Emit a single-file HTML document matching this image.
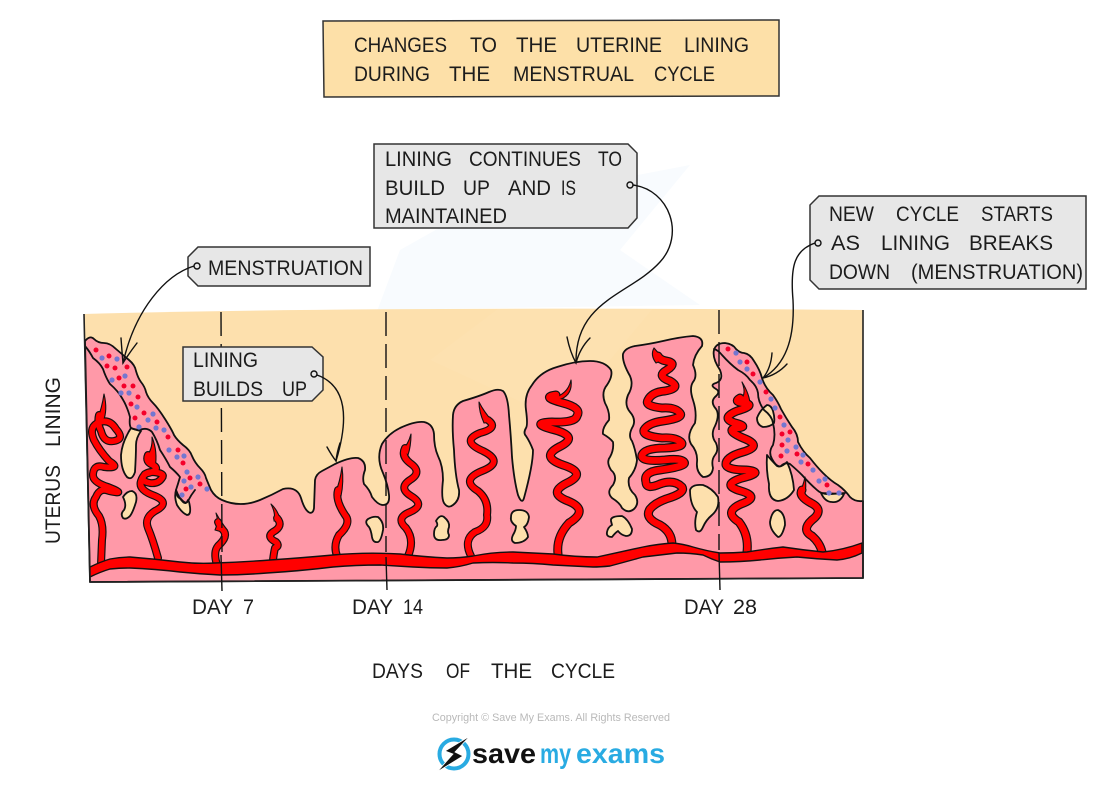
<!DOCTYPE html>
<html><head><meta charset="utf-8">
<style>
html,body{margin:0;padding:0;background:#fff;width:1100px;height:792px;overflow:hidden}
svg{display:block}
text{font-family:"Liberation Sans",sans-serif;font-size:21px;fill:#1c1c1c}
.o{fill:none;stroke:#111;stroke-width:1.8;stroke-linecap:round;stroke-linejoin:round}
.t{fill:#ff99a8;stroke:#111;stroke-width:1.8;stroke-linejoin:round}
.g{fill:#fde0ad;stroke:#111;stroke-width:1.8;stroke-linejoin:round}
.s{fill:#f00;stroke:#111;stroke-width:1.1;stroke-linejoin:round}
.b{fill:#e7e7e7;stroke:#333;stroke-width:1.5}
.c{fill:none;stroke:#111;stroke-width:1.4;stroke-linecap:round}
.r circle{fill:#f4002a}
.p circle{fill:#7477d0}
</style></head><body>
<svg width="1100" height="792" viewBox="0 0 1100 792" xmlns="http://www.w3.org/2000/svg">
<defs>
<g id="v" fill="none" stroke-linecap="round" stroke-linejoin="round">
<path d="M101,564 L102,540 Q104,525 99,516 Q90,505 96,497 Q100,487 109,491 Q128,495 108,487 Q92,482 93,474 Q94,464 104,467 Q122,469 109,461 Q99,450 94,440 Q88,426 100,422 Q110,419 116,429 Q125,439 114,441 Q104,443 101,431 Q97,423 99,415"/>
<path d="M158,558 Q153,540 148,528 Q144,518 155,511 Q171,503 155,496 Q138,490 141,481 Q144,472 152,472 Q166,473 162,478 Q158,484 150,483 Q139,481 145,474 Q162,470 153,465 Q145,462 148,455"/>
<path d="M217,565 Q213,552 218,546 Q229,536 223,530 Q219,525 218,522"/>
<path d="M273,560 Q274,552 275,548 Q280,546 276,542 Q266,537 273,532 Q284,526 277,518"/>
<path d="M337,556 Q333,545 339,535 Q352,523 345,515 Q335,500 338,490"/>
<path d="M408,556 Q415,540 406,528 Q395,518 410,512 Q426,505 411,496 Q398,488 410,480 Q423,472 410,463 Q401,456 405,448"/>
<path d="M471,556 Q463,540 475,532 Q489,527 487,515 Q489,500 478,491 Q460,480 482,471 Q505,462 483,451 Q460,441 480,433 Q499,428 488,420"/>
</g>
<g id="w" fill="none" stroke-linecap="round" stroke-linejoin="round">
<path d="M558,554 Q556,537 569,523 Q590,510 568,501 Q547,493 567,483 Q588,473 563,465 Q540,457 559,447 Q580,437 555,430 Q528,423 552,422 Q575,423 577,416 Q582,408 563,403 Q540,397 556,395"/>
<path d="M672,545 Q672,532 660,525 Q644,518 650,509 Q655,503 666,499 Q686,493 682,487 Q674,479 660,484 Q646,490 646,482 Q643,472 660,470 Q688,466 684,462 Q681,458 665,460 Q640,462 642,455 Q645,448 665,448 Q686,447 681,442 Q675,437 662,438 Q642,436 644,430 Q648,423 663,421 Q684,418 680,413 Q675,407 662,408 Q644,406 648,400 Q652,392 665,391 Q682,388 670,381 Q656,376 667,370 Q678,363 666,361 Q660,360 658,356"/>
<path d="M747,552 Q749,535 739,522 Q723,512 741,504 Q761,497 741,491 Q720,485 742,478 Q766,472 746,470 Q728,470 726,465 Q725,457 743,452 Q764,446 743,438 Q725,430 736,428 Q750,427 735,423 Q720,418 737,411 Q757,405 744,403 Q733,402 740,398"/>
<path d="M822,552 Q820,543 812,536 Q801,530 812,520 Q825,510 811,503 Q798,496 802,490"/>
</g>
</defs>

<!-- watermark on white -->
<path d="M370,330 L400,250 L480,205 L690,165 L620,250 L700,305 L370,310Z" fill="#f8fbfe"/>

<!-- title -->
<path d="M323,21 L779,20 L779,96 L324,97Z" fill="#fde0a8" stroke="#333" stroke-width="1.5"/>
<text x="354" y="52" textLength="93" lengthAdjust="spacingAndGlyphs">CHANGES</text>
<text x="470" y="52" textLength="27" lengthAdjust="spacingAndGlyphs">TO</text>
<text x="516" y="52" textLength="41" lengthAdjust="spacingAndGlyphs">THE</text>
<text x="576" y="52" textLength="86" lengthAdjust="spacingAndGlyphs">UTERINE</text>
<text x="684" y="52" textLength="65" lengthAdjust="spacingAndGlyphs">LINING</text>
<text x="354" y="81" textLength="76" lengthAdjust="spacingAndGlyphs">DURING</text>
<text x="449" y="81" textLength="41" lengthAdjust="spacingAndGlyphs">THE</text>
<text x="513" y="81" textLength="121" lengthAdjust="spacingAndGlyphs">MENSTRUAL</text>
<text x="654" y="81" textLength="61" lengthAdjust="spacingAndGlyphs">CYCLE</text>

<!-- panel -->
<path d="M84,314 Q380,306 863,310 L863,578 L90,582Z" fill="#fde0ad"/>
<path d="M430,360 L680,172 L590,305 L660,300 L560,420Z" fill="#fff" opacity=".04"/>

<!-- tissue -->
<path class="t" d="M85,341 Q90,335 94,339 Q98,343 104,343 Q110,343 116,349 Q123,355 129,360 Q135,365 136,371 Q138,378 141,382 Q145,387 146,392 Q148,398 153,403 Q158,408 165,419 Q172,430 174,435 Q177,440 183,445 Q190,450 192,456 Q195,463 200,468 Q205,473 206,478 Q208,483 211,490 Q215,497 222,500 Q240,508 260,500 Q272,495 283,489 Q297,486 301,498 C306,515 313,516 314,508 L315,480 Q316,474 322,471 L335,464 Q350,457 358,458 Q366,461 365,470 Q362,478 364,484 Q370,490 372,497 Q378,505 383,505 Q390,505 389,495 Q388,485 383,473 Q376,458 382,444 Q388,434 400,428 Q415,421 424,422 Q433,424 434,434 Q434,447 438,456 Q443,466 443,480 Q441,498 444,503 Q448,509 453,505 Q460,500 459,490 Q455,475 454,450 Q452,430 453,415 Q454,405 463,401 Q480,396 489,392 Q498,388 503,391 Q508,396 509,415 Q511,437 512,457 Q514,480 518,495 Q522,505 524,498 Q533,465 533,450 Q530,442 526,436 Q523,433 526,428 Q528,425 526,410 Q524,395 532,385 Q540,372 557,367 Q575,361 590,361 Q605,361 611,370 Q613,376 607,385 Q601,392 605,403 Q610,412 609,420 Q602,428 603,434 Q610,438 613,442 Q614,450 610,457 Q606,462 611,470 Q618,476 613,485 Q606,492 612,498 Q620,503 622,508 Q628,514 634,509 Q640,503 635,495 Q627,488 629,478 Q636,470 637,460 Q635,448 632,441 Q628,436 632,428 Q637,420 630,412 Q624,405 628,395 Q634,385 630,376 Q622,362 623,354 Q625,348 635,346 Q650,344 663,341 Q680,337 693,336 Q704,337 702,346 Q694,355 693,365 Q698,376 693,382 Q689,388 693,400 Q697,412 695,423 Q686,435 691,444 Q698,452 697,462 Q696,472 703,477 Q712,477 713,468 Q711,460 715,455 Q719,450 716,443 Q710,435 715,426 Q720,415 716,409 Q710,402 715,397 Q721,392 716,389 Q709,385 716,383 Q724,380 720,370 Q712,358 714,350 Q716,343 725,343 Q733,344 736,349 Q740,353 744,353 Q750,354 754,361 Q760,370 762,378 Q765,388 773,395 Q778,402 781,409 Q786,418 792,427 Q798,434 798,442 Q803,452 810,458 Q817,467 823,473 Q831,481 838,485 Q845,490 850,497 Q855,502 863,501 L863,578 L90,582Z"/>

<!-- glands -->
<path class="g" d="M131,428 Q122,442 121,455 Q121,470 127,477 Q132,481 135,472 Q136,455 136,445 Q136,438 141,431 Q135,430 131,428Z"/>
<path class="g" d="M176,490 Q174,497 177,505 Q182,513 187,515 Q191,515 190,507 Q189,500 188,500 Q186,505 183,502 Q179,498 176,490Z"/>
<path class="g" d="M123,497 Q127,491 132,491 Q138,493 136,502 Q133,512 130,516 Q126,520 123,518 Q120,514 124,510 Q127,505 123,497Z"/>
<path class="g" d="M368,519 Q373,516 378,517 Q384,522 383,530 Q381,541 378,542 Q373,543 372,537 Q371,530 369,527 Q364,522 368,519Z"/>
<path class="g" d="M436,521 Q440,514 444,517 Q450,522 449,527 Q447,532 449,535 Q449,540 442,540 Q434,541 434,534 Q434,528 437,526 Q438,524 436,521Z"/>
<path class="g" d="M511,517 Q511,510 519,510 Q528,510 529,517 Q528,525 524,527 Q528,533 528,537 Q524,543 515,543 Q510,541 513,535 Q516,530 516,526 Q510,522 511,517Z"/>
<path class="g" d="M611,521 Q610,516 622,516 Q628,519 632,529 Q632,536 626,536 Q621,535 618,531 Q615,533 612,537 Q606,537 607,532 Q608,527 612,525Z"/>
<path class="g" d="M690,490 Q692,484 703,485 Q712,488 718,497 Q720,508 712,515 Q706,520 703,527 Q700,534 696,530 Q694,522 697,512 Q690,505 690,490Z"/>
<path class="g" d="M757,418 Q760,410 767,405 Q771,405 773,411 Q775,418 774,423 Q770,427 763,427 Q757,425 757,418Z"/>
<path class="g" d="M767,455 Q766,470 769,484 Q768,500 778,501 Q788,500 794,490 Q793,475 787,462 Q781,468 777,466 Q771,460 767,455Z"/>
<path class="g" d="M770,522 Q772,510 778,510 Q785,513 785,525 Q782,537 778,537 Q770,530 770,522Z"/>
<path class="g" d="M821,493 Q825,502 832,502 Q840,503 844,494Z"/>

<!-- shed lining edges -->
<path class="o" d="M85,346 Q90,352 93,358 Q100,363 103,369 Q106,378 110,384 Q118,391 122,398 Q127,406 130,417 Q129,425 131,428 Q138,431 143,429 Q148,428 152,432 Q157,440 160,450 Q166,459 170,467 Q176,472 180,477 Q178,484 176,490 Q176,497 181,499 Q186,505 188,501 Q191,495 195,490"/>
<path class="o" d="M714,349 Q718,350 722,355 Q730,364 738,370 Q746,374 750,380 Q757,386 758,393 Q758,402 764,410 Q772,416 773,423 Q776,435 773,445 Q768,452 772,459 Q777,468 781,466 Q785,462 790,464 Q797,470 802,475 Q810,484 817,490 Q822,495 832,494 L845,493"/>

<!-- vessels -->
<use href="#v" stroke="#111" stroke-width="8"/>
<use href="#w" stroke="#111" stroke-width="9"/>
<path class="s" d="M97,420 Q102,408 104,394 Q108,410 103,422Z"/>
<path class="s" d="M145,458 Q153,450 152,437 Q158,452 155,468Z"/>
<path class="s" d="M215,530 Q219,522 216,513 Q222,522 222,532Z"/>
<path class="s" d="M274,521 Q276,514 271,504 Q278,510 281,522Z"/>
<path class="s" d="M335,494 Q340,482 342,467 Q344,482 341,496Z"/>
<path class="s" d="M402,450 Q408,445 411,434 Q411,446 408,455Z"/>
<path class="s" d="M484,423 Q479,412 479,402 Q484,412 493,422Z"/>
<path class="s" d="M553,398 Q568,394 571,380 Q573,396 558,400Z"/>
<path class="s" d="M656,363 Q650,355 654,348 Q660,356 668,358Z"/>
<path class="s" d="M737,401 Q748,397 742,382 Q750,395 750,405Z"/>
<path class="s" d="M799,493 Q803,487 805,477 Q807,487 804,496Z"/>
<use href="#v" stroke="#f00" stroke-width="5.6"/>
<use href="#w" stroke="#f00" stroke-width="6.6"/>

<!-- artery -->
<path d="M90,567 Q100,562 110,559 Q120,557 130,557 Q155,559 180,562 Q198,564 215,563 Q243,562 270,560 Q300,558 333,555 Q365,552 400,554 Q425,557 447,558 Q460,558 473,556 Q493,552 513,552 Q533,553 553,554 Q575,557 597,557 Q620,552 643,547 Q658,544 673,543 Q683,544 693,547 Q707,551 720,553 Q733,553 747,552 Q765,549 783,547 Q803,550 823,552 Q843,550 862,543 L862,553 Q850,559 837,560 Q817,559 797,557 Q778,558 760,560 Q740,562 720,562 Q711,559 703,555 Q690,553 677,553 Q660,555 643,557 Q625,562 610,566 Q600,567 593,567 Q573,566 553,565 Q533,563 513,563 Q493,562 473,563 Q460,567 447,568 Q430,568 413,567 Q397,566 380,565 Q356,565 333,567 Q300,571 267,573 Q243,575 220,575 Q200,574 180,572 Q155,569 130,568 Q120,568 110,569 Q100,572 90,577Z" fill="#f00" stroke="#111" stroke-width="1.4"/>

<!-- dots -->
<g class="r">
<circle cx="96" cy="350" r="2.5"/><circle cx="109" cy="356" r="2.5"/><circle cx="107" cy="366" r="2.5"/><circle cx="115" cy="368" r="2.5"/><circle cx="127" cy="367" r="2.5"/><circle cx="119" cy="378" r="2.5"/><circle cx="124" cy="386" r="2.5"/><circle cx="133" cy="386" r="2.5"/><circle cx="138" cy="397" r="2.5"/><circle cx="131" cy="404" r="2.5"/><circle cx="135" cy="418" r="2.5"/><circle cx="144" cy="413" r="2.5"/><circle cx="157" cy="422" r="2.5"/><circle cx="168" cy="437" r="2.5"/><circle cx="178" cy="450" r="2.5"/><circle cx="183" cy="463" r="2.5"/><circle cx="190" cy="478" r="2.5"/><circle cx="200" cy="484" r="2.5"/><circle cx="186" cy="489" r="2.5"/>
<circle cx="728" cy="349" r="2.5"/><circle cx="747" cy="362" r="2.5"/><circle cx="753" cy="374" r="2.5"/><circle cx="766" cy="392" r="2.5"/><circle cx="780" cy="417" r="2.5"/><circle cx="782" cy="434" r="2.5"/><circle cx="790" cy="432" r="2.5"/><circle cx="782" cy="445" r="2.5"/><circle cx="781" cy="456" r="2.5"/><circle cx="797" cy="454" r="2.5"/><circle cx="808" cy="464" r="2.5"/><circle cx="827" cy="485" r="2.5"/>
</g>
<g class="p">
<circle cx="102" cy="358" r="2.6"/><circle cx="117" cy="359" r="2.6"/><circle cx="125" cy="376" r="2.6"/><circle cx="112" cy="380" r="2.6"/><circle cx="121" cy="393" r="2.6"/><circle cx="129" cy="393" r="2.6"/><circle cx="137" cy="407" r="2.6"/><circle cx="153" cy="414" r="2.6"/><circle cx="148" cy="420" r="2.6"/><circle cx="139" cy="427" r="2.6"/><circle cx="156" cy="428" r="2.6"/><circle cx="164" cy="430" r="2.6"/><circle cx="169" cy="450" r="2.6"/><circle cx="184" cy="456" r="2.6"/><circle cx="177" cy="457" r="2.6"/><circle cx="187" cy="472" r="2.6"/><circle cx="184" cy="481" r="2.6"/><circle cx="198" cy="477" r="2.6"/><circle cx="191" cy="487" r="2.6"/><circle cx="207" cy="489" r="2.6"/><circle cx="182" cy="495" r="2.6"/>
<circle cx="736" cy="353" r="2.6"/><circle cx="740" cy="362" r="2.6"/><circle cx="747" cy="369" r="2.6"/><circle cx="760" cy="382" r="2.6"/><circle cx="771" cy="399" r="2.6"/><circle cx="775" cy="408" r="2.6"/><circle cx="784" cy="425" r="2.6"/><circle cx="788" cy="440" r="2.6"/><circle cx="796" cy="447" r="2.6"/><circle cx="787" cy="451" r="2.6"/><circle cx="803" cy="455" r="2.6"/><circle cx="801" cy="462" r="2.6"/><circle cx="813" cy="470" r="2.6"/><circle cx="825" cy="479" r="2.6"/><circle cx="819" cy="481" r="2.6"/><circle cx="829" cy="493" r="2.6"/><circle cx="839" cy="493" r="2.6"/>
</g>

<!-- panel border -->
<path d="M84,314 L90,582 L863,578 L863,310" fill="none" stroke="#222" stroke-width="1.6"/>

<!-- day lines -->
<g stroke="#111" stroke-width="1.4" fill="none">
<path d="M221,312 L222,552" stroke-dasharray="24 8"/><path d="M221,555 L222,591"/>
<path d="M386,312 L386,552" stroke-dasharray="24 8"/><path d="M386,557 L387,590"/>
<path d="M719,310 L719,550" stroke-dasharray="24 8"/><path d="M719,553 L720,590"/>
</g>

<!-- tags -->
<path class="b" d="M198,247 L370,247 L370,286 L198,286 L188,276 L188,257Z"/>
<path class="b" d="M183,347 L312,347 L323,357 L323,390 L312,401 L183,401Z"/>
<path class="b" d="M374,144 L628,144 L637,153 L637,218 L628,228 L374,228Z"/>
<path class="b" d="M819,196 L1086,196 L1086,289 L819,289 L810,280 L810,205Z"/>

<circle class="c" cx="197" cy="266" r="3"/>
<circle class="c" cx="314" cy="374" r="3"/>
<circle class="c" cx="630" cy="185" r="3"/>
<circle class="c" cx="818" cy="243" r="3"/>

<!-- connectors -->
<path class="c" d="M194,266 C165,275 135,310 123,363"/>
<path class="c" d="M121,338 Q122,352 123,363 Q130,352 137,343"/>
<path class="c" d="M317,375 C345,385 350,415 336,461"/>
<path class="c" d="M327,447 Q332,456 336,461 Q337,452 340,443"/>
<path class="c" d="M633,185 C670,190 685,235 660,262 C630,295 575,300 576,363"/>
<path class="c" d="M567,337 Q570,352 576,363 Q580,348 590,338"/>
<path class="c" d="M815,243 C795,250 790,265 793,300 C795,340 785,365 763,378"/>
<path class="c" d="M772,353 Q771,368 763,378 Q777,375 787,364"/>

<!-- tag text -->
<text x="208" y="275" textLength="155" lengthAdjust="spacingAndGlyphs">MENSTRUATION</text>
<text x="193" y="367" textLength="65" lengthAdjust="spacingAndGlyphs">LINING</text>
<text x="193" y="396" textLength="70" lengthAdjust="spacingAndGlyphs">BUILDS</text>
<text x="282" y="396" textLength="25" lengthAdjust="spacingAndGlyphs">UP</text>
<text x="385" y="166" textLength="67" lengthAdjust="spacingAndGlyphs">LINING</text>
<text x="469" y="166" textLength="112" lengthAdjust="spacingAndGlyphs">CONTINUES</text>
<text x="598" y="166" textLength="24" lengthAdjust="spacingAndGlyphs">TO</text>
<text x="385" y="195" textLength="60" lengthAdjust="spacingAndGlyphs">BUILD</text>
<text x="463" y="195" textLength="27" lengthAdjust="spacingAndGlyphs">UP</text>
<text x="508" y="195" textLength="43" lengthAdjust="spacingAndGlyphs">AND</text>
<text x="561" y="195" textLength="15" lengthAdjust="spacingAndGlyphs">IS</text>
<text x="385" y="223" textLength="122" lengthAdjust="spacingAndGlyphs">MAINTAINED</text>
<text x="829" y="221" textLength="45" lengthAdjust="spacingAndGlyphs">NEW</text>
<text x="896" y="221" textLength="63" lengthAdjust="spacingAndGlyphs">CYCLE</text>
<text x="981" y="221" textLength="72" lengthAdjust="spacingAndGlyphs">STARTS</text>
<text x="831" y="250" textLength="29" lengthAdjust="spacingAndGlyphs">AS</text>
<text x="881" y="250" textLength="69" lengthAdjust="spacingAndGlyphs">LINING</text>
<text x="969" y="250" textLength="84" lengthAdjust="spacingAndGlyphs">BREAKS</text>
<text x="829" y="279" textLength="61" lengthAdjust="spacingAndGlyphs">DOWN</text>
<text x="911" y="279" textLength="172" lengthAdjust="spacingAndGlyphs">(MENSTRUATION)</text>

<!-- axis text -->
<text transform="translate(60,447) rotate(-90)" textLength="70" lengthAdjust="spacingAndGlyphs">LINING</text>
<text transform="translate(60,544) rotate(-90)" textLength="79" lengthAdjust="spacingAndGlyphs">UTERUS</text>
<text x="192" y="614" textLength="41" lengthAdjust="spacingAndGlyphs">DAY</text>
<text x="243" y="614" textLength="11" lengthAdjust="spacingAndGlyphs">7</text>
<text x="352" y="614" textLength="41" lengthAdjust="spacingAndGlyphs">DAY</text>
<text x="403" y="614" textLength="20" lengthAdjust="spacingAndGlyphs">14</text>
<text x="684" y="614" textLength="40" lengthAdjust="spacingAndGlyphs">DAY</text>
<text x="733" y="614" textLength="24" lengthAdjust="spacingAndGlyphs">28</text>
<text x="372" y="678" textLength="51" lengthAdjust="spacingAndGlyphs">DAYS</text>
<text x="446" y="678" textLength="24" lengthAdjust="spacingAndGlyphs">OF</text>
<text x="491" y="678" textLength="41" lengthAdjust="spacingAndGlyphs">THE</text>
<text x="551" y="678" textLength="64" lengthAdjust="spacingAndGlyphs">CYCLE</text>

<!-- footer -->
<text x="432" y="721" textLength="238" lengthAdjust="spacingAndGlyphs" style="font-size:11px;fill:#b9b9b9">Copyright © Save My Exams. All Rights Reserved</text>
<circle cx="454" cy="754" r="14.5" fill="#fff" stroke="#29abe2" stroke-width="4"/>
<path d="M470,736 L445,751 L453,754 L437,772 L463,756 L455,752Z" fill="#111" stroke="#fff" stroke-width=".8"/>
<text x="472" y="763" textLength="64" lengthAdjust="spacingAndGlyphs" style="font-size:28px;font-weight:bold;fill:#111">save</text>
<text x="540" y="763" textLength="31" lengthAdjust="spacingAndGlyphs" style="font-size:28px;font-weight:bold;fill:#29abe2">my</text>
<text x="576" y="763" textLength="89" lengthAdjust="spacingAndGlyphs" style="font-size:28px;font-weight:bold;fill:#29abe2">exams</text>
</svg>
</body></html>
